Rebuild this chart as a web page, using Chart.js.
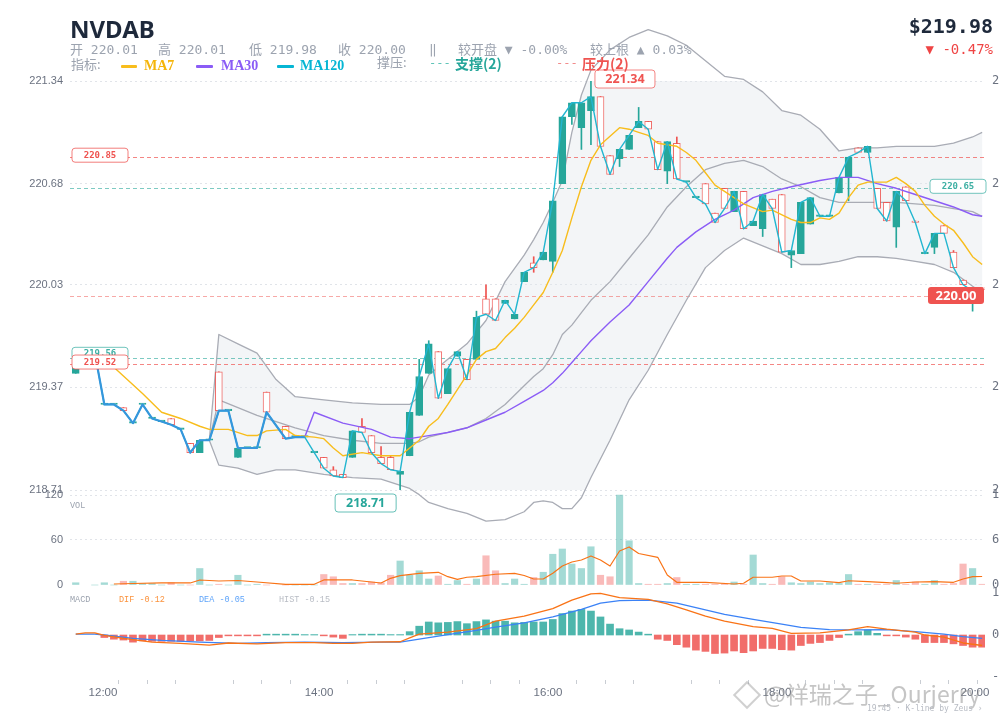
<!DOCTYPE html>
<html lang="zh">
<head>
<meta charset="utf-8">
<title>NVDAB</title>
<script src="https://cdn.jsdelivr.net/npm/chart.js@4.4.1/dist/chart.umd.min.js"></script>
<style>
  html, body { margin: 0; padding: 0; background: #fff; }
  #wrap { position: relative; width: 1000px; height: 720px; overflow: hidden; }
  #chart { position: absolute; left: 0; top: 0; }
  .t { position: absolute; white-space: nowrap; line-height: 1; }
  .mono { font-family: 'DejaVu Sans Mono', 'Noto Sans CJK SC', monospace; }
  .cjk { font-family: 'Noto Sans CJK SC', sans-serif; }
  .gray { color: #9ca3af; }
  .row { top: 43px; font-size: 13px; }
  .sw { position: absolute; top: 65px; height: 3px; border-radius: 1px; }
  .ma { font: bold 14px 'Liberation Serif', serif; top: 58px; }
  .sub { font: 8.5px 'Liberation Mono', monospace; top: 595px; }
</style>
</head>
<body>
<div id="wrap">
  <canvas id="chart" width="1000" height="720"></canvas>

  <div class="t" style="left:70px;top:12px;font:bold 24px 'Noto Sans',sans-serif;color:#1e293b;">NVDAB</div>
  <div class="t mono" style="right:7px;top:16px;font-weight:bold;font-size:20px;color:#1e293b;">$219.98</div>
  <div class="t mono" style="right:7px;top:42px;font-size:14px;color:#ef4444;">▼ -0.47%</div>

  <div class="t mono gray row" style="left:70px;">开 220.01</div>
  <div class="t mono gray row" style="left:158px;">高 220.01</div>
  <div class="t mono gray row" style="left:249px;">低 219.98</div>
  <div class="t mono gray row" style="left:338px;">收 220.00</div>
  <div class="t mono gray row" style="left:429px;">‖</div>
  <div class="t mono gray row" style="left:458px;">较开盘 ▼ -0.00%</div>
  <div class="t mono gray row" style="left:590px;">较上根 ▲ 0.03%</div>

  <div class="t cjk gray" style="left:71px;top:57px;font-size:13px;">指标:</div>
  <div class="sw" style="left:121px;width:16px;background:#f8bd1c;"></div>
  <div class="t ma" style="left:144px;color:#f5b50a;">MA7</div>
  <div class="sw" style="left:196px;width:17px;background:#8b5cf6;"></div>
  <div class="t ma" style="left:221px;color:#8b5cf6;">MA30</div>
  <div class="sw" style="left:277px;width:17px;background:#06b6d4;"></div>
  <div class="t ma" style="left:300px;color:#06b6d4;">MA120</div>
  <div class="t cjk gray" style="left:377px;top:55px;font-size:13px;">撑压:</div>
  <div class="t mono" style="left:429px;top:57px;font-size:12px;color:#5fc4b8;">---</div>
  <div class="t cjk" style="left:455px;top:56px;font-size:14px;font-weight:bold;color:#26a69a;">支撑(2)</div>
  <div class="t mono" style="left:556px;top:57px;font-size:12px;color:#f28b8b;">---</div>
  <div class="t cjk" style="left:582px;top:56px;font-size:14px;font-weight:bold;color:#ef5350;">压力(2)</div>

  <div class="t" style="left:70px;top:501px;font:8.5px 'Liberation Mono',monospace;color:#9ca3af;">VOL</div>
  <div class="t sub" style="left:70px;color:#9ca3af;">MACD</div>
  <div class="t sub" style="left:119px;color:#fb923c;">DIF -0.12</div>
  <div class="t sub" style="left:199px;color:#60a5fa;">DEA -0.05</div>
  <div class="t sub" style="left:279px;color:#b8bcc4;">HIST -0.15</div>

  <div style="position:absolute;left:737px;top:685px;width:16px;height:16px;border:2px solid rgba(150,150,150,0.45);transform:rotate(45deg);"></div>
  <div class="t cjk" style="left:764px;top:682px;font-size:23px;color:rgba(140,140,140,0.5);">@祥瑞之子_Ourjerry</div>
  <div class="t mono" style="left:867px;top:705px;font-size:8px;color:#b8bcc4;">19:45 · K-line by Zeus ›</div>
</div>

<script>
// 5-minute bars, NVDAB
const candleTimes = ['11:50','12:00','12:05','12:10','12:15','12:20','12:25','12:30','12:35','12:40',
  '12:45','12:50','12:55','13:00','13:05','13:10','13:15','13:20','13:25','13:30',
  '13:40','13:45','13:50','13:55','14:00','14:05','14:10','14:15','14:20','14:25',
  '14:30','14:35','14:40','14:45','14:50','14:55','15:00','15:05','15:10','15:15',
  '15:20','15:25','15:30','15:35','15:40','15:45','15:50','15:55','16:00','16:05',
  '16:10','16:15','16:20','16:25','16:30','16:35','16:40','16:45','16:50','16:55',
  '17:00','17:05','17:10','17:15','17:20','17:25','17:30','17:35','17:40','17:45',
  '17:50','17:55','18:00','18:05','18:10','18:15','18:20','18:25','18:30','18:35',
  '18:40','18:45','18:50','18:55','19:00','19:05','19:10','19:15','19:20','19:25',
  '19:30','19:35','19:40','19:45'];
const opens = [219.46,219.59,219.26,219.26,219.24,219.14,219.26,219.17,219.15,219.17,
  219.10,219.01,218.95,219.03,219.47,219.22,218.92,218.98,218.98,219.34,
  219.12,219.05,219.05,218.95,218.92,218.84,218.81,218.92,219.12,219.06,
  218.92,218.92,218.81,218.93,219.19,219.46,219.60,219.33,219.57,219.55,
  219.55,219.94,219.94,219.91,219.81,220.05,220.17,220.19,220.18,220.68,
  221.11,221.04,221.15,221.24,220.86,220.84,220.90,221.04,221.08,220.95,
  220.76,220.94,220.69,220.59,220.68,220.49,220.65,220.50,220.63,220.41,
  220.39,220.58,220.61,220.22,220.23,220.42,220.47,220.47,220.62,220.72,
  220.91,220.88,220.65,220.56,220.40,220.66,220.44,220.23,220.27,220.41,
  220.24,220.06,219.97,220.01];
const highs = [219.59,219.59,219.26,219.26,219.24,219.14,219.26,219.17,219.15,219.17,
  219.10,219.01,219.03,219.03,219.47,219.22,218.98,218.98,218.98,219.34,
  219.12,219.05,219.05,218.95,218.92,218.86,218.81,219.09,219.17,219.06,
  218.99,218.93,218.83,219.21,219.55,219.67,219.60,219.49,219.60,219.55,
  219.86,220.03,219.94,219.93,219.84,220.11,220.21,220.24,220.57,221.11,
  221.20,221.20,221.34,221.24,220.86,220.90,220.99,221.17,221.08,220.95,
  220.95,220.98,220.69,220.59,220.68,220.49,220.65,220.63,220.63,220.44,
  220.61,220.58,220.61,220.25,220.56,220.59,220.47,220.47,220.72,220.85,
  220.91,220.92,220.65,220.56,220.63,220.66,220.44,220.23,220.36,220.41,
  220.25,220.06,220.00,220.01];
const lows = [219.46,219.59,219.26,219.26,219.22,219.14,219.26,219.17,219.15,219.13,
  219.10,218.95,218.95,219.03,219.22,219.22,218.92,218.98,218.98,219.21,
  219.04,219.05,219.05,218.95,218.85,218.80,218.79,218.92,219.08,218.95,
  218.88,218.84,218.71,218.93,219.19,219.46,219.30,219.33,219.57,219.42,
  219.55,219.84,219.80,219.91,219.81,220.05,220.11,220.19,220.11,220.68,
  221.06,220.90,220.93,220.92,220.74,220.79,220.90,221.04,221.03,220.77,
  220.68,220.71,220.69,220.59,220.55,220.43,220.52,220.50,220.39,220.41,
  220.34,220.52,220.24,220.14,220.23,220.42,220.47,220.47,220.62,220.57,
  220.88,220.88,220.52,220.44,220.27,220.57,220.43,220.23,220.23,220.36,
  220.14,220.03,219.86,219.98];
const closes = [219.59,219.59,219.26,219.26,219.22,219.14,219.26,219.17,219.15,219.13,
  219.10,218.95,219.03,219.03,219.22,219.22,218.98,218.98,218.98,219.21,
  219.04,219.05,219.05,218.95,218.85,218.80,218.79,219.09,219.08,218.95,
  218.88,218.84,218.83,219.21,219.44,219.65,219.30,219.49,219.60,219.42,
  219.82,219.84,219.80,219.93,219.84,220.11,220.14,220.24,220.57,221.11,
  221.20,221.20,221.24,220.92,220.74,220.90,220.99,221.08,221.03,220.77,
  220.95,220.71,220.69,220.59,220.55,220.43,220.52,220.63,220.39,220.44,
  220.61,220.52,220.24,220.25,220.56,220.59,220.47,220.47,220.72,220.85,
  220.88,220.92,220.52,220.44,220.63,220.57,220.43,220.23,220.36,220.36,
  220.14,220.03,219.99,220.00];
const volumes = [3,0,3,0,5,5,2,2,0,3, 0,0,22,0,1,0,13,0,1,0,
  0,0,0,0,14,11,2,2,2,4, 3,13,32,13,19,8,12,1,6,1,
  8,39,19,2,8,1,10,17,41,48, 28,22,51,13,11,120,59,2,1,1,
  2,10,1,1,1,1,1,4,1,40, 2,1,11,3,2,4,2,3,2,14,
  1,1,1,1,6,1,4,1,6,1, 2,28,22,1];
const blueLineUntil = '13:50';

const ma7Times = ['11:55','12:00','12:10','12:25','12:35','12:45','12:55','13:00','13:10','13:20',
  '13:25','13:30','13:40','13:45','13:55','14:00','14:05','14:10','14:20','14:30',
  '14:40','14:45','14:50','14:55','15:00','15:05','15:15','15:20','15:25','15:30',
  '15:35','15:40','15:45','15:50','15:55','16:00','16:05','16:10','16:15','16:20',
  '16:25','16:35','16:40','16:45','16:50','16:55','17:00','17:05','17:10','17:15',
  '17:20','17:25','17:30','17:40','17:50','17:55','18:05','18:10','18:15','18:20',
  '18:25','18:30','18:35','18:40','18:45','18:55','19:00','19:05','19:10','19:15',
  '19:20','19:25','19:30','19:35','19:40','19:45'];
const ma7 = [219.59,219.57,219.50,219.33,219.21,219.17,219.12,219.10,219.10,219.06,
  219.06,219.09,219.10,219.06,219.05,219.04,218.98,218.93,218.95,218.93,
  218.93,218.98,219.03,219.12,219.17,219.26,219.45,219.55,219.60,219.62,
  219.69,219.75,219.82,219.90,219.98,220.11,220.25,220.46,220.66,220.83,
  220.93,221.04,221.03,221.01,220.99,220.94,220.93,220.92,220.88,220.83,
  220.75,220.67,220.63,220.55,220.50,220.51,220.45,220.43,220.43,220.46,
  220.45,220.49,220.59,220.67,220.69,220.69,220.72,220.68,220.63,220.54,
  220.47,220.42,220.38,220.30,220.21,220.16];

const ma30Times = ['13:50','13:55','14:10','14:25','14:35','14:45','14:55','15:05','15:15','15:25',
  '15:35','15:45','15:55','16:00','16:05','16:10','16:15','16:20','16:30','16:40',
  '16:50','17:00','17:05','17:15','17:25','17:35','17:45','17:55','18:05','18:20',
  '18:30','18:40','18:50','19:00','19:10','19:20','19:30','19:40','19:45'];
const ma30 = [219.05,219.21,219.14,219.10,219.05,219.04,219.06,219.08,219.11,219.16,
  219.21,219.28,219.35,219.40,219.46,219.53,219.60,219.67,219.79,219.90,
  220.05,220.20,220.27,220.37,220.45,220.51,220.59,220.63,220.66,220.70,
  220.72,220.72,220.68,220.65,220.61,220.57,220.53,220.48,220.47];

const bandTimes = ['13:00','13:05','13:15','13:25','13:35','13:45','14:00','14:15','14:30','14:45',
  '14:50','14:55','15:05','15:15','15:25','15:35','15:45','15:50','15:55','16:00',
  '16:05','16:10','16:15','16:20','16:30','16:40','16:50','17:00','17:10','17:20',
  '17:30','17:40','17:50','18:00','18:10','18:20','18:30','18:40','18:50','19:00',
  '19:10','19:20','19:30','19:40','19:45'];
const bandUpper = [219.03,219.71,219.65,219.59,219.42,219.31,219.29,219.27,219.26,219.26,
  219.31,219.45,219.55,219.65,219.80,220.05,220.22,220.32,220.43,220.56,
  220.70,221.01,221.25,221.41,221.54,221.62,221.67,221.63,221.57,221.47,
  221.37,221.35,221.27,221.15,221.12,221.03,220.89,220.91,220.91,220.92,
  220.92,220.92,220.94,220.98,221.01];
const bandMid = [219.03,219.29,219.24,219.19,219.15,219.11,219.06,219.03,219.01,219.01,
  219.02,219.05,219.08,219.11,219.17,219.26,219.38,219.44,219.49,219.58,
  219.71,219.77,219.85,219.93,220.05,220.20,220.35,220.53,220.66,220.77,
  220.81,220.83,220.79,220.71,220.66,220.59,220.56,220.56,220.56,220.56,
  220.55,220.54,220.52,220.50,220.47];
const bandLower = [219.03,218.87,218.85,218.81,218.84,218.84,218.81,218.79,218.78,218.72,
  218.68,218.63,218.59,218.56,218.51,218.52,218.57,218.63,218.64,218.63,
  218.59,218.59,218.66,218.79,219.03,219.29,219.48,219.71,219.93,220.14,
  220.25,220.33,220.28,220.23,220.16,220.16,220.18,220.21,220.21,220.20,
  220.18,220.16,220.11,220.02,219.98];

const volMaTimes = ['12:10','12:20','12:35','12:50','12:55','13:05','13:15','13:25','13:40','13:55',
  '14:00','14:15','14:25','14:30','14:35','14:40','14:50','15:00','15:05','15:10',
  '15:15','15:20','15:30','15:40','15:45','15:50','15:55','16:00','16:05','16:10',
  '16:15','16:20','16:25','16:30','16:35','16:40','16:45','16:55','17:00','17:05',
  '17:20','17:35','17:40','17:45','17:55','18:00','18:05','18:10','18:20','18:30',
  '18:35','18:45','18:55','19:00','19:10','19:20','19:30','19:35','19:40','19:45'];
const volMa = [1.3,2.0,2.7,2.7,6.7,5.3,6.0,4.0,0.9,0.9,
  6.7,6.7,4.0,2.7,8.9,12.4,15.6,16.9,11.1,7.6,
  10.3,11.1,14.3,15.6,12.7,8.0,8.0,15.6,25.3,30.7,
  33.3,38.7,33.3,25.3,45.3,50.7,42.0,36.9,13.3,3.6,
  3.6,1.3,2.3,10.3,10.3,12.0,12.0,5.3,5.3,3.1,
  5.7,4.4,3.1,2.3,4.0,4.4,3.6,8.0,11.1,11.3];

// MACD histogram, one value per 5-minute slot from macdStart
const macdStart = '12:05';
const macdHist = [-0.06,-0.10,-0.12,-0.17,-0.14,-0.15,-0.15,-0.15,-0.15,-0.14,
  -0.14,-0.13,-0.06,-0.02,-0.02,-0.02,-0.02,0.02,0.02,0.02,
  0.02,0.01,0.01,-0.02,-0.05,-0.08,0.01,0.02,0.02,0.02,
  0.01,0.01,0.08,0.21,0.31,0.29,0.30,0.32,0.27,0.32,
  0.36,0.33,0.33,0.29,0.30,0.31,0.31,0.37,0.51,0.57,
  0.61,0.57,0.43,0.26,0.15,0.12,0.07,0.02,-0.10,-0.13,
  -0.23,-0.29,-0.36,-0.39,-0.44,-0.43,-0.38,-0.42,-0.38,-0.32,
  -0.32,-0.35,-0.36,-0.25,-0.20,-0.18,-0.13,-0.06,0.02,0.08,
  0.12,0.04,-0.02,-0.02,-0.05,-0.10,-0.18,-0.18,-0.18,-0.21,
  -0.25,-0.29,-0.29];
const difTimes = ['11:50','11:55','12:00','12:05','12:15','12:30','12:45','13:00','13:10','13:25',
  '13:40','13:55','14:05','14:15','14:25','14:40','14:45','14:50','15:05','15:20',
  '15:30','15:45','16:00','16:10','16:20','16:25','16:35','16:50','17:00','17:10',
  '17:20','17:30','17:45','17:55','18:05','18:20','18:35','18:45','18:55','19:10',
  '19:15','19:25','19:35','19:45'];
const dif = [0.02,0.05,0.05,-0.01,-0.08,-0.17,-0.20,-0.24,-0.19,-0.21,
  -0.18,-0.18,-0.20,-0.20,-0.17,-0.16,-0.07,0.02,0.07,0.15,
  0.33,0.45,0.63,0.83,0.98,0.99,0.89,0.85,0.74,0.60,
  0.45,0.33,0.20,0.16,0.04,0.05,0.12,0.20,0.14,0.07,
  0.00,-0.05,-0.19,-0.25];
const deaTimes = ['11:50','12:00','12:05','12:20','12:35','12:55','13:15','13:30','13:50','14:10',
  '14:30','14:40','14:50','15:05','15:20','15:30','15:45','16:00','16:15','16:25',
  '16:35','16:50','17:05','17:15','17:30','17:45','18:00','18:10','18:25','18:40',
  '18:55','19:10','19:25','19:35','19:45'];
const dea = [0.02,0.02,0.00,-0.08,-0.13,-0.17,-0.20,-0.18,-0.17,-0.18,
  -0.17,-0.17,-0.10,0.01,0.11,0.19,0.29,0.43,0.61,0.76,
  0.82,0.83,0.76,0.65,0.49,0.37,0.26,0.18,0.13,0.12,
  0.13,0.08,0.02,-0.04,-0.08];

const supportLevels = [220.65, 219.56];
const supportSide = ['right', 'left'];
const resistLevels = [220.85, 219.52];
const lastPriceLine = 219.96;
const lastPriceLabel = '220.00';

const priceTicks = [218.71, 219.37, 220.03, 220.68, 221.34];
const volTicks = [0, 60, 120];
const macdTicks = [-1, 0, 1];
const hourLabels = ['12:00', '14:00', '16:00', '18:00', '20:00'];

const TEAL = '#26a69a';
const RED = '#ef5350';
const BAND = '#a9acb5';

const tx = t => { const [h, m] = t.split(':').map(Number); return h * 60 + m; };
const mid = t => tx(t) + 2.5; // centre of the 5-minute slot
const series = (times, vals) => times.map((t, i) => ({ x: mid(t), y: vals[i] }));
const isUp = i => closes[i] >= opens[i];
const blueEnd = candleTimes.indexOf(blueLineUntil) + 1;

const datasets = [
  { label: 'close', data: series(candleTimes.slice(0, blueEnd), closes.slice(0, blueEnd)),
    borderColor: '#3597dc', borderWidth: 2.2, yAxisID: 'yP', order: 0 },
  { label: 'MA120', data: series(candleTimes, closes), borderColor: '#22b6d0', borderWidth: 1.4, yAxisID: 'yP', order: 1 },
  { label: 'MA7', data: series(ma7Times, ma7), borderColor: '#f8bd1c', borderWidth: 1.4, yAxisID: 'yP', order: 2 },
  { label: 'MA30', data: series(ma30Times, ma30), borderColor: '#8b5cf6', borderWidth: 1.4, yAxisID: 'yP', order: 3 },
  { type: 'bar', label: 'body', yAxisID: 'yP', order: 4,
    data: candleTimes.map((t, i) => ({ x: mid(t), y: [opens[i], closes[i]] })),
    backgroundColor: c => isUp(c.dataIndex) ? TEAL : '#ffffff',
    borderColor: c => isUp(c.dataIndex) ? TEAL : 'rgba(239,83,80,0.85)',
    borderWidth: 1, borderSkipped: false, barThickness: 7, minBarLength: 1.5, grouped: false },
  { type: 'bar', label: 'wick', yAxisID: 'yP', order: 5,
    data: candleTimes.map((t, i) => ({ x: mid(t), y: [lows[i], highs[i]] })),
    backgroundColor: c => isUp(c.dataIndex) ? TEAL : RED,
    barThickness: 1, grouped: false },
  { label: 'upper', data: series(bandTimes, bandUpper), borderColor: BAND, borderWidth: 1.3, clip: false, yAxisID: 'yP', order: 6 },
  { label: 'mid', data: series(bandTimes, bandMid), borderColor: BAND, borderWidth: 1.3, clip: false, yAxisID: 'yP', order: 6 },
  { label: 'lower', data: series(bandTimes, bandLower), borderColor: BAND, borderWidth: 1.3, clip: false, yAxisID: 'yP', order: 6 },
  { type: 'bar', label: 'VOL', yAxisID: 'yV', order: 8,
    data: series(candleTimes, volumes),
    backgroundColor: c => isUp(c.dataIndex) ? 'rgba(38,166,154,0.42)' : 'rgba(239,83,80,0.4)',
    barThickness: 6.5, grouped: false },
  { label: 'VOL MA', data: series(volMaTimes, volMa), borderColor: '#f97316', borderWidth: 1.2, yAxisID: 'yV', order: 2 },
  { type: 'bar', label: 'HIST', yAxisID: 'yM', order: 8,
    data: macdHist.map((v, i) => ({ x: tx(macdStart) + 5 * i + 2.5, y: v })),
    backgroundColor: c => c.raw.y >= 0 ? 'rgba(38,166,154,0.82)' : 'rgba(239,83,80,0.85)',
    barThickness: 7, grouped: false },
  { label: 'DIF', data: series(difTimes, dif), borderColor: '#f97316', borderWidth: 1.3, yAxisID: 'yM', order: 2 },
  { label: 'DEA', data: series(deaTimes, dea), borderColor: '#3b82f6', borderWidth: 1.3, yAxisID: 'yM', order: 2 }
];
const UPPER = datasets.findIndex(d => d.label === 'upper');
const LOWER = datasets.findIndex(d => d.label === 'lower');

function tag(ctx, x, y, w, h, text, o) {
  ctx.beginPath();
  ctx.roundRect(x, y, w, h, 3);
  ctx.fillStyle = o.fill;
  ctx.fill();
  if (o.stroke) { ctx.lineWidth = 1; ctx.strokeStyle = o.stroke; ctx.stroke(); }
  ctx.fillStyle = o.color;
  ctx.font = o.font;
  ctx.textAlign = 'center';
  ctx.textBaseline = 'middle';
  ctx.fillText(text, x + w / 2, y + h / 2 + 0.5);
}

const decor = {
  id: 'decor',
  beforeDatasetsDraw(chart) {
    const { ctx, chartArea: a } = chart;
    const yP = chart.scales.yP;
    const up = chart.getDatasetMeta(UPPER).data;
    const lo = chart.getDatasetMeta(LOWER).data;

    // band fill, kept inside the price pane
    ctx.save();
    ctx.beginPath();
    ctx.rect(a.left, yP.top, a.right - a.left, yP.bottom - yP.top);
    ctx.clip();
    ctx.beginPath();
    up.forEach((p, i) => i ? ctx.lineTo(p.x, p.y) : ctx.moveTo(p.x, p.y));
    for (let i = lo.length - 1; i >= 0; i--) ctx.lineTo(lo[i].x, lo[i].y);
    ctx.closePath();
    ctx.fillStyle = 'rgba(226,229,235,0.4)';
    ctx.fill();
    ctx.restore();

    // support / resistance / last price lines
    ctx.save();
    ctx.lineWidth = 1;
    ctx.setLineDash([4, 3]);
    const hline = (v, color) => {
      const y = Math.round(yP.getPixelForValue(v)) + 0.5;
      ctx.strokeStyle = color;
      ctx.beginPath();
      ctx.moveTo(a.left, y);
      ctx.lineTo(a.right, y);
      ctx.stroke();
    };
    hline(lastPriceLine, 'rgba(239,83,80,0.5)');
    supportLevels.forEach(v => hline(v, 'rgba(38,166,154,0.6)'));
    resistLevels.forEach(v => hline(v, 'rgba(239,83,80,0.7)'));
    ctx.restore();
  },
  afterDatasetsDraw(chart) {
    const { ctx, chartArea: a } = chart;
    const { x: xs, yP } = chart.scales;
    ctx.save();
    const small = "bold 9px 'DejaVu Sans Mono', monospace";
    supportLevels.forEach((v, i) => {
      const y = yP.getPixelForValue(v);
      const onLeft = supportSide[i] === 'left';
      const left = onLeft ? a.left + 2 : a.right - 55;
      tag(ctx, left, y - (onLeft ? 10.5 : 9), 56, onLeft ? 12 : 14, v.toFixed(2),
        { fill: '#fff', stroke: 'rgba(38,166,154,0.65)', color: '#3fb0a4', font: small });
    });
    resistLevels.forEach(v => {
      const y = yP.getPixelForValue(v);
      tag(ctx, a.left + 2, y - 9, 56, 14, v.toFixed(2), { fill: '#fff', stroke: 'rgba(239,83,80,0.75)', color: '#ef5350', font: small });
    });
    const yl = yP.getPixelForValue(lastPriceLine);
    tag(ctx, a.right - 57, yl - 8.5, 56, 17, lastPriceLabel, { fill: '#ef5350', color: '#fff', font: "bold 13px 'Noto Sans', sans-serif" });

    // high / low markers
    const hi = highs.indexOf(Math.max(...highs));
    const lo = lows.indexOf(Math.min(...lows));
    const hx = xs.getPixelForValue(mid(candleTimes[hi]));
    const hy = yP.getPixelForValue(highs[hi]);
    tag(ctx, hx + 4, hy - 11, 60, 18, highs[hi].toFixed(2), { fill: '#fff', stroke: 'rgba(239,83,80,0.7)', color: '#ef5350', font: "bold 12.5px 'Noto Sans', sans-serif" });
    const lx = xs.getPixelForValue(mid(candleTimes[lo]));
    const ly = yP.getPixelForValue(lows[lo]);
    tag(ctx, lx - 65, ly + 4, 61, 18, lows[lo].toFixed(2), { fill: '#fff', stroke: 'rgba(38,166,154,0.7)', color: '#26a69a', font: "bold 12.5px 'Noto Sans', sans-serif" });

    // hour labels on the time axis, kept inside the plot width
    ctx.fillStyle = '#6b7280';
    ctx.font = "11.5px 'Liberation Sans', sans-serif";
    ctx.textAlign = 'center';
    ctx.textBaseline = 'middle';
    hourLabels.forEach(h => {
      const px = Math.min(Math.max(xs.getPixelForValue(tx(h)), a.left + 33), a.right - 10);
      ctx.fillText(h, px, a.bottom + 13);
    });
    ctx.restore();
  }
};

const axisFont = { family: "'Liberation Sans', sans-serif", size: 11 };
const rightFont = { family: "'DejaVu Sans Mono', monospace", size: 12 };
const setTicks = list => s => { s.ticks = list.map(v => ({ value: v })); };
const hidden = { display: false, drawTicks: false };

new Chart(document.getElementById('chart'), {
  type: 'line',
  data: { datasets },
  options: {
    responsive: false,
    animation: false,
    events: [],
    layout: { padding: { top: 81, left: 0, right: 0, bottom: 0 } },
    elements: { point: { radius: 0 }, line: { tension: 0, borderJoinStyle: 'round' } },
    plugins: { legend: { display: false }, tooltip: { enabled: false } },
    scales: {
      x: {
        type: 'linear', min: 709.5, max: 1189, offset: false,
        border: { display: false },
        grid: { offset: false, drawOnChartArea: false, tickLength: 4,
          color: c => (c.tick && c.tick.value % 60 === 0) ? 'rgba(0,0,0,0)' : '#c9cdd3' },
        ticks: { stepSize: 15, includeBounds: false, autoSkip: false, maxRotation: 0, callback: () => '' },
        afterFit: s => { s.height = 40; }
      },
      yP: {
        position: 'left', stack: 'panes', stackWeight: 409, weight: 3,
        min: 218.71, max: 221.34, afterBuildTicks: setTicks(priceTicks),
        grid: { color: '#e1e4e9', drawTicks: false },
        border: { display: false, dash: [2, 3] },
        ticks: { color: '#6b7280', font: axisFont, padding: 7, callback: v => v.toFixed(2) },
        afterFit: s => { s.width = 70; }
      },
      yV: {
        position: 'left', stack: 'panes', stackWeight: 97, weight: 2,
        min: -2.667, max: 126.667, afterBuildTicks: setTicks(volTicks),
        grid: { color: c => c.tick.value === 0 ? 'rgba(0,0,0,0)' : '#e1e4e9', drawTicks: false },
        border: { display: false, dash: [2, 3] },
        ticks: { color: '#6b7280', font: axisFont, padding: 7 },
        afterFit: s => { s.width = 70; }
      },
      yM: {
        position: 'left', stack: 'panes', stackWeight: 93, weight: 1,
        min: -1.071, max: 1.143, afterBuildTicks: setTicks(macdTicks),
        grid: hidden, border: { display: false },
        ticks: { display: false },
        afterFit: s => { s.width = 70; }
      },
      yPR: {
        position: 'right', stack: 'panes', stackWeight: 409, weight: 1,
        min: 218.71, max: 221.34, afterBuildTicks: setTicks(priceTicks),
        grid: hidden, border: { display: false },
        ticks: { color: '#6b7280', font: rightFont, padding: 7, callback: v => v.toFixed(2) },
        afterFit: s => { s.width = 15; }
      },
      yVR: {
        position: 'right', stack: 'panes', stackWeight: 97, weight: 2,
        min: -2.667, max: 126.667, afterBuildTicks: setTicks(volTicks),
        grid: hidden, border: { display: false },
        ticks: { color: '#6b7280', font: rightFont, padding: 7 },
        afterFit: s => { s.width = 15; }
      },
      yMR: {
        position: 'right', stack: 'panes', stackWeight: 93, weight: 3,
        min: -1.071, max: 1.143, afterBuildTicks: setTicks(macdTicks),
        grid: hidden, border: { display: false },
        ticks: { color: '#6b7280', font: rightFont, padding: 7 },
        afterFit: s => { s.width = 15; }
      }
    }
  },
  plugins: [decor]
});
</script>
</body>
</html>
